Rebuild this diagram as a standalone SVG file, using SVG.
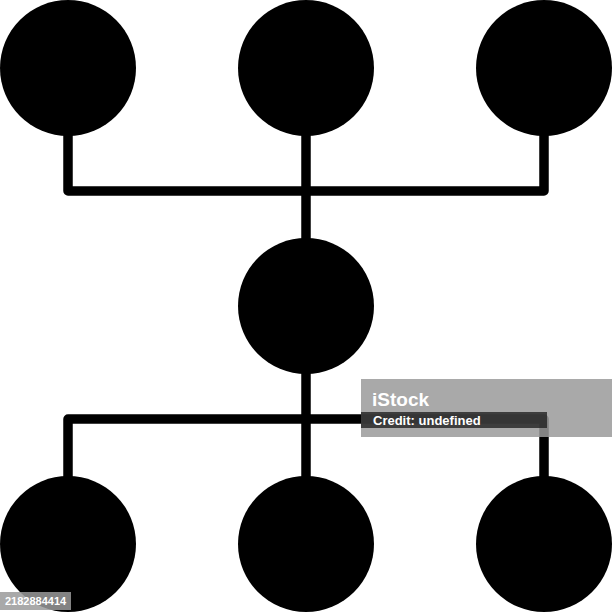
<svg xmlns="http://www.w3.org/2000/svg" width="612" height="612" viewBox="0 0 612 612">
<style>
.node{fill:#000}
.conn{fill:none;stroke:#000;stroke-width:9.5;stroke-linejoin:round;stroke-linecap:butt}
.wm{font-family:"Liberation Sans",Arial,sans-serif;fill:#fff;font-weight:bold}
</style>
<rect width="612" height="612" fill="#fff"/>
<g id="connectors">
<path class="conn" d="M68,130 V191 H544 V130"/>
<path class="conn" d="M306,130 V245"/>
<path class="conn" d="M68,482 V419 H544 V482"/>
<path class="conn" d="M306,370 V482"/>
</g>
<g id="n-top-left"><circle class="node" cx="68" cy="68" r="68"/></g>
<g id="n-top-center"><circle class="node" cx="306" cy="68" r="68"/></g>
<g id="n-top-right"><circle class="node" cx="544" cy="68" r="68"/></g>
<g id="n-center"><circle class="node" cx="306" cy="306" r="68"/></g>
<g id="n-bottom-left"><circle class="node" cx="68" cy="544" r="68"/></g>
<g id="n-bottom-center"><circle class="node" cx="306" cy="544" r="68"/></g>
<g id="n-bottom-right"><circle class="node" cx="544" cy="544" r="68"/></g>
<g id="watermark">
<rect x="361" y="379" width="251" height="58" fill="#9a9a9a" opacity="0.85"/>
<rect x="361" y="412" width="186" height="16" fill="#222" opacity="0.8"/>
<text class="wm" x="372" y="406" font-size="19">iStock</text>
<text class="wm" x="373" y="425" font-size="13" font-weight="normal">Credit: undefined</text>
<rect x="0" y="592" width="71" height="18" fill="#9a9a9a" opacity="0.85"/>
<text class="wm" x="5" y="605" font-size="11">2182884414</text>
</g>
</svg>
